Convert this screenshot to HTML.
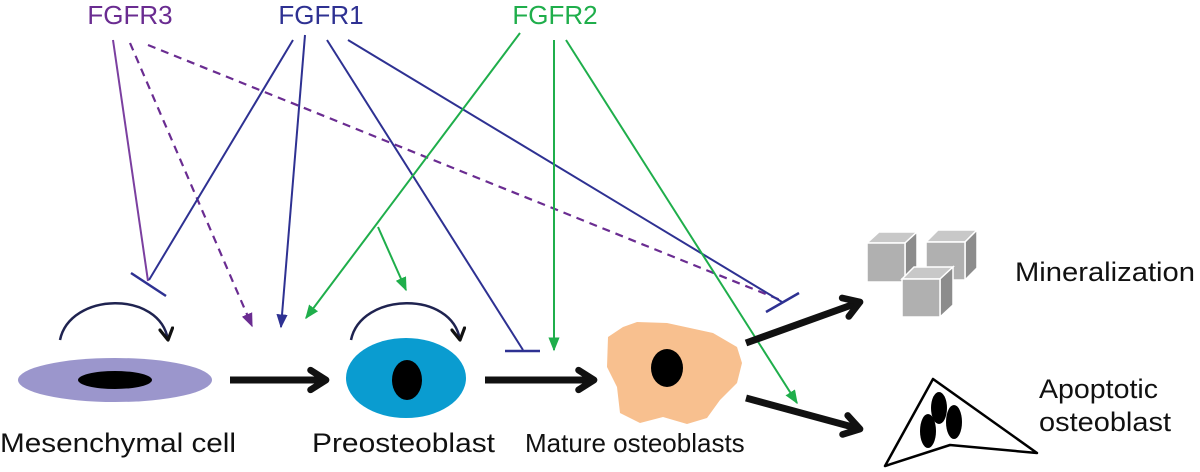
<!DOCTYPE html>
<html><head><meta charset="utf-8"><style>
html,body{margin:0;padding:0;background:#fff;}
svg{display:block;}
text{font-family:"Liberation Sans",Arial,sans-serif;}
</style></head><body>
<svg width="1200" height="472" viewBox="0 0 1200 472" xmlns="http://www.w3.org/2000/svg">
<defs>
<marker id="ag" viewBox="0 0 10 10" refX="9" refY="5" markerWidth="14" markerHeight="14" orient="auto" markerUnits="userSpaceOnUse"><path d="M0,1 L10,5 L0,9 z" fill="#1fae4b"/></marker>
<marker id="ap" viewBox="0 0 10 10" refX="9" refY="5" markerWidth="14" markerHeight="14" orient="auto" markerUnits="userSpaceOnUse"><path d="M0,1 L10,5 L0,9 z" fill="#6a2c91"/></marker>
<marker id="an" viewBox="0 0 10 10" refX="9" refY="5" markerWidth="14" markerHeight="14" orient="auto" markerUnits="userSpaceOnUse"><path d="M0,1 L10,5 L0,9 z" fill="#2e3192"/></marker>
<marker id="ac" viewBox="0 0 10 10" refX="8" refY="5" markerWidth="16" markerHeight="16" orient="auto" markerUnits="userSpaceOnUse"><path d="M1,1 L8,5 L1,9" fill="none" stroke="#111" stroke-width="2" stroke-linecap="round" stroke-linejoin="round"/></marker>
<marker id="ak" viewBox="0 0 10 10" refX="7" refY="5" markerWidth="28" markerHeight="28" orient="auto" markerUnits="userSpaceOnUse"><path d="M1.5,1.5 L7,5 L1.5,8.5" fill="none" stroke="#111" stroke-width="2.4" stroke-linecap="round" stroke-linejoin="round"/></marker>
</defs>

<text x="130" y="24" font-size="26" fill="#6a2c91" text-anchor="middle">FGFR3</text>
<text x="321" y="24" font-size="26" fill="#2e3192" text-anchor="middle">FGFR1</text>
<text x="555" y="24" font-size="26" fill="#1fae4b" text-anchor="middle">FGFR2</text>

<line x1="113" y1="40" x2="148" y2="281" stroke="#7b3fa0" stroke-width="2"/>
<line x1="130" y1="43" x2="252" y2="326" stroke="#6a2c91" stroke-width="2.2" stroke-dasharray="8,6" marker-end="url(#ap)"/>
<line x1="148" y1="45" x2="783" y2="301" stroke="#6a2c91" stroke-width="2.2" stroke-dasharray="8,6"/>

<line x1="293" y1="40" x2="149" y2="280" stroke="#2e3192" stroke-width="2"/>
<line x1="131" y1="273" x2="166" y2="296" stroke="#2e3192" stroke-width="2.5"/>
<line x1="305" y1="35" x2="281" y2="327" stroke="#2e3192" stroke-width="2" marker-end="url(#an)"/>
<line x1="327" y1="40" x2="523" y2="350" stroke="#2e3192" stroke-width="2"/>
<line x1="505" y1="351" x2="540" y2="351" stroke="#2e3192" stroke-width="2.5"/>
<line x1="348" y1="40" x2="782" y2="302" stroke="#2e3192" stroke-width="2"/>
<line x1="766" y1="312" x2="799" y2="293" stroke="#2e3192" stroke-width="2.5"/>

<line x1="520" y1="33" x2="306" y2="318" stroke="#1fae4b" stroke-width="2" marker-end="url(#ag)"/>
<line x1="378" y1="227" x2="406" y2="290" stroke="#1fae4b" stroke-width="2" marker-end="url(#ag)"/>
<line x1="554" y1="40" x2="554" y2="350" stroke="#1fae4b" stroke-width="2" marker-end="url(#ag)"/>
<line x1="566" y1="40" x2="797" y2="403" stroke="#1fae4b" stroke-width="2" marker-end="url(#ag)"/>

<path d="M60,340 C70,292 160,290 168,340" fill="none" stroke="#1f2350" stroke-width="2.5" marker-end="url(#ac)"/>
<path d="M351,340 C361,292 452,290 460,340" fill="none" stroke="#1f2350" stroke-width="2.5" marker-end="url(#ac)"/>

<ellipse cx="115" cy="380" rx="97" ry="22" fill="#9b96cc"/>
<ellipse cx="115" cy="380" rx="37" ry="9" fill="#000"/>
<ellipse cx="406" cy="378" rx="60" ry="40" fill="#0a9cd0"/>
<ellipse cx="407" cy="380" rx="15" ry="20" fill="#000"/>
<path d="M608,337 L623,327 L637,322 L667,323 L713,333 L737,347 L742,363 L737,383 L720,400 L707,418 L687,424 L663,417 L640,423 L620,413 L617,387 L607,367 Z" fill="#f8c08f"/>
<ellipse cx="667" cy="368" rx="16" ry="19" fill="#000"/>

<line x1="230" y1="380" x2="326" y2="380" stroke="#111" stroke-width="7" marker-end="url(#ak)"/>
<line x1="485" y1="380" x2="594" y2="380" stroke="#111" stroke-width="7" marker-end="url(#ak)"/>
<line x1="746" y1="343" x2="860" y2="302" stroke="#111" stroke-width="7" marker-end="url(#ak)"/>
<line x1="746" y1="398" x2="860" y2="429" stroke="#111" stroke-width="7" marker-end="url(#ak)"/>

<g stroke="#fff" stroke-width="1.5">
<g><polygon points="867,243 879,232 917,232 905,243" fill="#c8c8c8"/><polygon points="905,243 917,232 917,271 905,282" fill="#8c8c8c"/><rect x="867" y="243" width="38" height="39" fill="#b0b0b0"/></g>
<g><polygon points="926,242 938,230 977,230 965,242" fill="#c8c8c8"/><polygon points="965,242 977,230 977,268 965,280" fill="#8c8c8c"/><rect x="926" y="242" width="39" height="38" fill="#b0b0b0"/></g>
<g><polygon points="902,279 914,267 953,267 940,279" fill="#c8c8c8"/><polygon points="940,279 953,267 953,305 940,317" fill="#8c8c8c"/><rect x="902" y="279" width="38" height="38" fill="#b0b0b0"/></g>
</g>

<polygon points="933,379 885,466 950,445 1037,453" fill="#fff" stroke="#000" stroke-width="2.5" stroke-linejoin="round"/>
<ellipse cx="939" cy="408" rx="8" ry="16" fill="#000"/>
<ellipse cx="954" cy="422" rx="8" ry="17" fill="#000"/>
<ellipse cx="928" cy="431" rx="8" ry="17" fill="#000"/>

<text x="0" y="452" font-size="27" fill="#111" textLength="236" lengthAdjust="spacingAndGlyphs">Mesenchymal cell</text>
<text x="312" y="452" font-size="27" fill="#111" textLength="183" lengthAdjust="spacingAndGlyphs">Preosteoblast</text>
<text x="525" y="452" font-size="26" fill="#111">Mature osteoblasts</text>
<text x="1015" y="281" font-size="27" fill="#111" textLength="180" lengthAdjust="spacingAndGlyphs">Mineralization</text>
<text x="1039" y="398" font-size="27" fill="#111" textLength="119" lengthAdjust="spacingAndGlyphs">Apoptotic</text>
<text x="1039" y="431" font-size="27" fill="#111" textLength="132" lengthAdjust="spacingAndGlyphs">osteoblast</text>
</svg>
</body></html>
